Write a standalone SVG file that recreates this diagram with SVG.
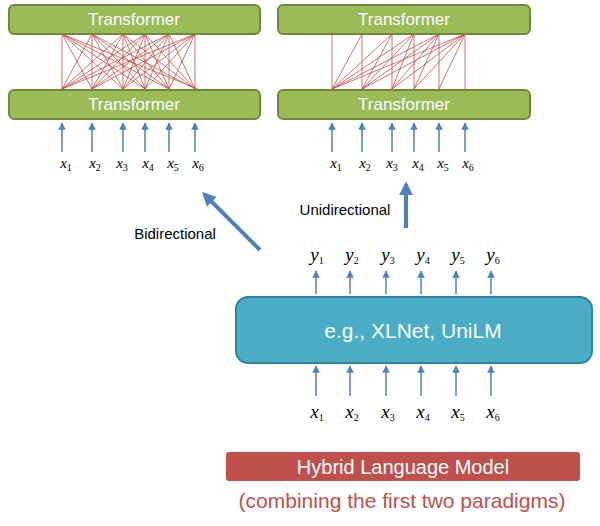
<svg xmlns="http://www.w3.org/2000/svg" width="600" height="526" viewBox="0 0 600 526">
<defs>
<style>
.tf{fill:#9bbb59;stroke:#71893f;stroke-width:2}
.tt{font-family:"Liberation Sans",Arial,sans-serif;font-size:17px;fill:#fff;text-anchor:middle}
.var{font-family:"Liberation Serif","DejaVu Serif",serif;font-style:italic;font-size:15px;fill:#000;text-anchor:middle}
.big{font-size:19px}
.sub{font-size:10px;font-style:normal}
.ar{stroke:#4f81bd;stroke-width:1.5;marker-end:url(#ah)}
.att{stroke:#c0504d;stroke-width:0.8}
.lbl{font-family:"Liberation Sans",Arial,sans-serif;font-size:15px;fill:#000;text-anchor:middle}
</style>
<marker id="ah" viewBox="0 0 10 10" refX="9" refY="5" markerWidth="5" markerHeight="5" orient="auto"><path d="M0,0L10,5L0,10z" fill="#4f81bd"/></marker>
<marker id="bh" viewBox="0 0 10 10" refX="8" refY="5" markerWidth="3.5" markerHeight="3.5" orient="auto"><path d="M0,0L10,5L0,10z" fill="#4f81bd"/></marker>
</defs>
<g id="connectors">
<g id="bi-attn" class="att">
<path d="M62,89L62,34M62,89L92,34M62,89L123,34M62,89L145,34M62,89L169,34M62,89L195,34M92,89L62,34M92,89L92,34M92,89L123,34M92,89L145,34M92,89L169,34M92,89L195,34M123,89L62,34M123,89L92,34M123,89L123,34M123,89L145,34M123,89L169,34M123,89L195,34M145,89L62,34M145,89L92,34M145,89L123,34M145,89L145,34M145,89L169,34M145,89L195,34M169,89L62,34M169,89L92,34M169,89L123,34M169,89L145,34M169,89L169,34M169,89L195,34M198,89L62,34M195,89L92,34M195,89L123,34M195,89L145,34M195,89L169,34M195,89L195,34"/>
</g>
<g id="uni-attn" class="att">
<path d="M332,89L332,34M332,89L362,34M332,89L392,34M332,89L414,34M332,89L439,34M332,89L465,34M362,89L362,34M362,89L392,34M362,89L414,34M362,89L439,34M362,89L465,34M392,89L392,34M392,89L414,34M392,89L439,34M392,89L465,34M414,89L414,34M414,89L439,34M414,89L465,34M439,89L439,34M439,89L465,34M465,89L465,34"/>
</g>
<g id="inputs-arrows">
<line class="ar" x1="62" y1="152" x2="62" y2="123"/><line class="ar" x1="92" y1="152" x2="92" y2="123"/><line class="ar" x1="123" y1="152" x2="123" y2="123"/><line class="ar" x1="145" y1="152" x2="145" y2="123"/><line class="ar" x1="169" y1="152" x2="169" y2="123"/><line class="ar" x1="195" y1="152" x2="195" y2="123"/>
<line class="ar" x1="332" y1="152" x2="332" y2="123"/><line class="ar" x1="362" y1="152" x2="362" y2="123"/><line class="ar" x1="392" y1="152" x2="392" y2="123"/><line class="ar" x1="414" y1="152" x2="414" y2="123"/><line class="ar" x1="439" y1="152" x2="439" y2="123"/><line class="ar" x1="465" y1="152" x2="465" y2="123"/>
<line class="ar" x1="316" y1="294" x2="316" y2="271"/><line class="ar" x1="350" y1="294" x2="350" y2="271"/><line class="ar" x1="386" y1="294" x2="386" y2="271"/><line class="ar" x1="421" y1="294" x2="421" y2="271"/><line class="ar" x1="456" y1="294" x2="456" y2="271"/><line class="ar" x1="491" y1="294" x2="491" y2="271"/>
<line class="ar" x1="316" y1="396" x2="316" y2="366"/><line class="ar" x1="350" y1="396" x2="350" y2="366"/><line class="ar" x1="386" y1="396" x2="386" y2="366"/><line class="ar" x1="421" y1="396" x2="421" y2="366"/><line class="ar" x1="456" y1="396" x2="456" y2="366"/><line class="ar" x1="491" y1="396" x2="491" y2="366"/>
</g>
<line x1="260" y1="250" x2="204" y2="194" stroke="#4f81bd" stroke-width="4" marker-end="url(#bh)"/>
<line x1="406" y1="228" x2="406" y2="184" stroke="#4f81bd" stroke-width="4" marker-end="url(#bh)"/>
<text class="lbl" x="175" y="239">Bidirectional</text>
<text class="lbl" x="345" y="215">Unidirectional</text>
</g>
<g id="bi-top"><rect class="tf" x="9" y="5" width="251" height="29" rx="5"/><text class="tt" x="134" y="25">Transformer</text></g>
<g id="bi-bottom"><rect class="tf" x="9" y="90" width="251" height="29" rx="5"/><text class="tt" x="134" y="110">Transformer</text></g>
<g id="uni-top"><rect class="tf" x="278" y="5" width="252" height="29" rx="5"/><text class="tt" x="404" y="25">Transformer</text></g>
<g id="uni-bottom"><rect class="tf" x="278" y="90" width="252" height="29" rx="5"/><text class="tt" x="404" y="110">Transformer</text></g>
<g id="bi-x">
<text class="var" x="66" y="168">x<tspan class="sub" dy="3">1</tspan></text><text class="var" x="95" y="168">x<tspan class="sub" dy="3">2</tspan></text><text class="var" x="122" y="168">x<tspan class="sub" dy="3">3</tspan></text><text class="var" x="148" y="168">x<tspan class="sub" dy="3">4</tspan></text><text class="var" x="173" y="168">x<tspan class="sub" dy="3">5</tspan></text><text class="var" x="198" y="168">x<tspan class="sub" dy="3">6</tspan></text>
</g>
<g id="uni-x">
<text class="var" x="336" y="168">x<tspan class="sub" dy="3">1</tspan></text><text class="var" x="365" y="168">x<tspan class="sub" dy="3">2</tspan></text><text class="var" x="392" y="168">x<tspan class="sub" dy="3">3</tspan></text><text class="var" x="418" y="168">x<tspan class="sub" dy="3">4</tspan></text><text class="var" x="443" y="168">x<tspan class="sub" dy="3">5</tspan></text><text class="var" x="468" y="168">x<tspan class="sub" dy="3">6</tspan></text>
</g>
<g id="model"><rect x="236" y="297" width="356" height="66" rx="12" fill="#4bacc6" stroke="#31859c" stroke-width="2"/><text x="413" y="338" font-family="Liberation Sans,Arial,sans-serif" font-size="21" fill="#fff" text-anchor="middle">e.g., XLNet, UniLM</text></g>
<g id="y-out">
<text class="var big" x="317" y="261">y<tspan class="sub" dy="3" font-size="12">1</tspan></text><text class="var big" x="352" y="261">y<tspan class="sub" dy="3" font-size="12">2</tspan></text><text class="var big" x="388" y="261">y<tspan class="sub" dy="3" font-size="12">3</tspan></text><text class="var big" x="423" y="261">y<tspan class="sub" dy="3" font-size="12">4</tspan></text><text class="var big" x="458" y="261">y<tspan class="sub" dy="3" font-size="12">5</tspan></text><text class="var big" x="493" y="261">y<tspan class="sub" dy="3" font-size="12">6</tspan></text>
</g>
<g id="x-in">
<text class="var big" x="317" y="418">x<tspan class="sub" dy="3" font-size="12">1</tspan></text><text class="var big" x="352" y="418">x<tspan class="sub" dy="3" font-size="12">2</tspan></text><text class="var big" x="388" y="418">x<tspan class="sub" dy="3" font-size="12">3</tspan></text><text class="var big" x="423" y="418">x<tspan class="sub" dy="3" font-size="12">4</tspan></text><text class="var big" x="458" y="418">x<tspan class="sub" dy="3" font-size="12">5</tspan></text><text class="var big" x="493" y="418">x<tspan class="sub" dy="3" font-size="12">6</tspan></text>
</g>
<g id="title"><rect x="226" y="452" width="354" height="29" rx="3" fill="#c0504d"/><text x="403" y="474" font-family="Liberation Sans,Arial,sans-serif" font-size="20" fill="#fff" text-anchor="middle">Hybrid Language Model</text>
<text x="402" y="508" font-family="Liberation Sans,Arial,sans-serif" font-size="21" fill="#c0504d" text-anchor="middle">(combining the first two paradigms)</text></g>
</svg>
